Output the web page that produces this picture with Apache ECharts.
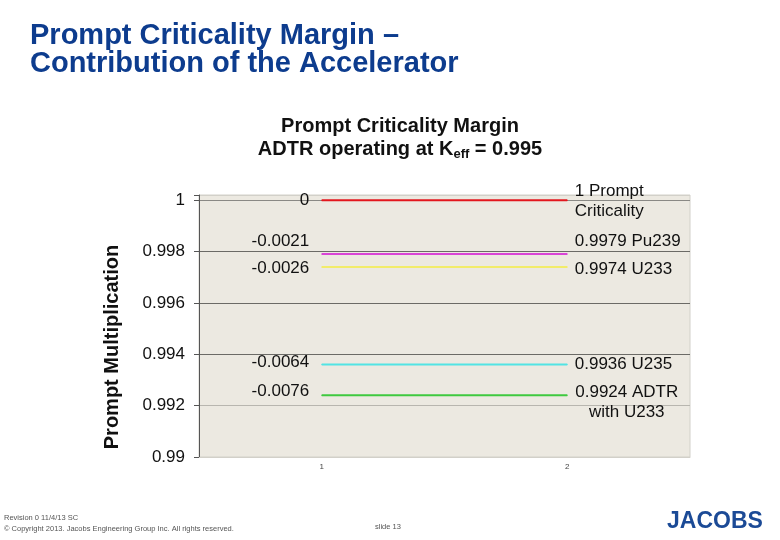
<!DOCTYPE html>
<html>
<head>
<meta charset="utf-8">
<title>Prompt Criticality Margin</title>
<script src="https://cdn.jsdelivr.net/npm/echarts@6/dist/echarts.min.js"></script>
<style>
  html, body { margin: 0; padding: 0; background: #fff; }
  #chart { width: 780px; height: 540px; }
</style>
</head>
<body>
<div id="chart"></div>
<script>
// chart data
var categories = ['1', '2'];
var seriesNames = ['Prompt Criticality', 'Pu239', 'U233', 'U235', 'ADTR with U233'];
var levels = [1, 0.9979, 0.9974, 0.9936, 0.9924];
var marginLabels = ['0', '-0.0021', '-0.0026', '-0.0064', '-0.0076'];
var endLabels = ['1 Prompt\nCriticality', '0.9979 Pu239', '0.9974 U233', '0.9936 U235', '0.9924 ADTR\nwith U233'];
var yTicks = [0.99, 0.992, 0.994, 0.996, 0.998, 1];

// look of each line
var lineColors = ['#e3161d', '#d944d6', '#f2ec6a', '#52e4e4', '#3fc93f'];
var leftOffsets = [[0, 0], [0, -13], [0, 1], [0, -2], [0, -4]];
var rightOffsets = [[0, 1], [0, -13], [0, 2], [0, 0], [52, 7]];

var font = '"Liberation Sans", Arial, sans-serif';

var myChart = echarts.init(document.getElementById('chart'), null, { renderer: 'canvas' });

var series = levels.map(function (v, i) {
    var right = {
        show: true,
        position: 'right',
        distance: 7,
        offset: rightOffsets[i],
        formatter: endLabels[i],
        fontSize: 17,
        lineHeight: 20,
        color: '#111',
        fontFamily: font
    };
    if (i === 4) right.align = 'center';
    return {
        name: seriesNames[i],
        type: 'line',
        symbol: 'circle',
        symbolSize: 1,
        showSymbol: true,
        silent: true,
        lineStyle: { color: lineColors[i], width: 2 },
        itemStyle: { color: lineColors[i] },
        data: [
            {
                value: v,
                label: {
                    show: true,
                    position: 'left',
                    distance: 12,
                    offset: leftOffsets[i],
                    formatter: marginLabels[i],
                    fontSize: 17,
                    color: '#111',
                    fontFamily: font
                }
            },
            { value: v, label: right }
        ]
    };
});

myChart.setOption({
    animation: false,
    backgroundColor: '#fff',
    textStyle: { fontFamily: font },
    title: [
        {
            text: 'Prompt Criticality Margin –\nContribution of the Accelerator',
            left: 25,
            top: 17,
            textStyle: {
                fontSize: 29,
                fontWeight: 'bold',
                color: '#0d3c8e',
                lineHeight: 28,
                fontFamily: font
            }
        },
        {
            text: 'Prompt Criticality Margin\nADTR operating at K{sub|eff} = 0.995',
            left: 395,
            textAlign: 'center',
            top: 110,
            textStyle: {
                fontSize: 20,
                fontWeight: 'bold',
                color: '#111',
                lineHeight: 23,
                fontFamily: font,
                rich: {
                    sub: { fontSize: 13, fontWeight: 'bold', verticalAlign: 'bottom', padding: [9, 0, 0, 0], color: '#111', fontFamily: font }
                }
            }
        }
    ],
    grid: {
        left: 199,
        right: 90,
        top: 195,
        bottom: 83,
        show: true,
        backgroundColor: '#ece9e1',
        borderColor: '#d2d0c9',
        borderWidth: 1
    },
    xAxis: {
        type: 'category',
        data: categories,
        boundaryGap: true,
        axisLine: { show: true, lineStyle: { color: '#d2d0c9' } },
        axisTick: { show: false },
        axisLabel: { fontSize: 8, color: '#444', margin: 6 }
    },
    yAxis: {
        type: 'value',
        min: 0.99,
        max: 1.0002,
        interval: 0.002,
        axisLine: { show: true, lineStyle: { color: '#555', width: 1 } },
        axisTick: { show: true, inside: false, length: 5, lineStyle: { color: '#555' } },
        axisLabel: {
            fontSize: 17,
            color: '#111',
            margin: 14,
            formatter: function (v) {
                for (var k = 0; k < yTicks.length; k++) {
                    if (Math.abs(v - yTicks[k]) < 1e-7) return String(yTicks[k]);
                }
                return '';
            }
        },
        splitLine: {
            show: true,
            lineStyle: {
                color: ['#d2d0c9', '#b8b6af', '#6b6a66', '#6b6a66', '#6b6a66', '#8a8985', '#d2d0c9'],
                width: 1
            }
        }
    },
    series: series,
    graphic: [
        {
            type: 'text',
            x: 112,
            y: 347,
            rotation: Math.PI / 2,
            style: {
                text: 'Prompt Multiplication',
                fontSize: 20,
                fontWeight: 'bold',
                fill: '#111',
                fontFamily: font,
                align: 'center',
                verticalAlign: 'middle'
            }
        },
        {
            type: 'text',
            x: 4,
            y: 512,
            style: {
                text: 'Revision 0 11/4/13 SC\n© Copyright 2013. Jacobs Engineering Group Inc. All rights reserved.',
                fontSize: 7.5,
                lineHeight: 11,
                fill: '#555',
                fontFamily: font
            }
        },
        {
            type: 'text',
            x: 375,
            y: 523,
            style: { text: 'slide 13', fontSize: 7.5, fill: '#555', fontFamily: font }
        },
        {
            type: 'text',
            x: 667,
            y: 510,
            style: {
                text: 'JACOBS',
                fontSize: 23,
                fontWeight: 900,
                fill: '#1b4a96',
                fontFamily: font
            }
        }
    ]
});
</script>
</body>
</html>
